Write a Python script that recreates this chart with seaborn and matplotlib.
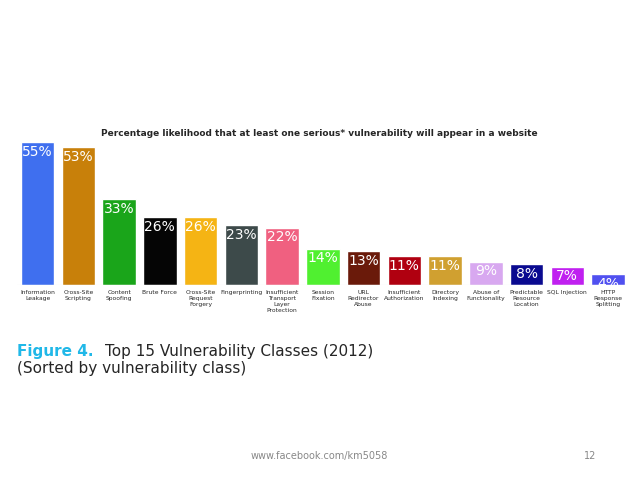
import matplotlib
matplotlib.use("Agg")
import matplotlib.pyplot as plt
import seaborn as sns
import pandas as pd

categories = ["Information\nLeakage", "Cross-Site\nScripting", "Content\nSpoofing", "Brute Force",
              "Cross-Site\nRequest\nForgery", "Fingerprinting", "Insufficient\nTransport\nLayer\nProtection",
              "Session\nFixation", "URL\nRedirector\nAbuse", "Insufficient\nAuthorization",
              "Directory\nIndexing", "Abuse of\nFunctionality", "Predictable\nResource\nLocation",
              "SQL Injection", "HTTP\nResponse\nSplitting"]
values = [55, 53, 33, 26, 26, 23, 22, 14, 13, 11, 11, 9, 8, 7, 4]
colors = ["#3f6fef", "#c8800a", "#1aa51a", "#050505", "#f5b414", "#3d4a4a", "#f06080",
          "#50f030", "#6a1a0a", "#b00010", "#d0a030", "#d8a8f0", "#0a0a90", "#c020f0", "#5050f0"]

sns.set_style("white")
plt.rcParams['font.family'] = ['DejaVu Sans']

df = pd.DataFrame({"cat": categories, "val": values})
fig = plt.figure(figsize=(6.38, 4.78), dpi=100)
ax = fig.add_axes([0.027, 0.404, 0.958, 0.299])
sns.barplot(data=df, x="cat", y="val", hue="cat", palette=colors, legend=False,
            width=0.82, ax=ax, saturation=1)
ax.set_ylim(0, 55)
ax.set_xlim(-0.5, len(values) - 0.5)
for i, v in enumerate(values):
    ax.text(i, v - 1, f"{v}%", ha="center", va="top", color="white", fontsize=10)
ax.set_xlabel("")
ax.set_ylabel("")
ax.set_yticks([])
ax.tick_params(axis="x", labelsize=4.3, length=0, pad=4)
for s in ax.spines.values():
    s.set_visible(False)
ax.axhline(0, color="#dddddd", lw=0.8)

fig.text(0.5, 0.715, "Percentage likelihood that at least one serious* vulnerability will appear in a website",
         ha="center", fontsize=6.5, fontweight="bold")
fig.text(0.027, 0.255, "Figure 4.", color="#20b8e8", fontsize=11, fontweight="bold")
fig.text(0.165, 0.255, "Top 15 Vulnerability Classes (2012)", fontsize=11)
fig.text(0.027, 0.22, "(Sorted by vulnerability class)", fontsize=11)
fig.text(0.5, 0.04, "www.facebook.com/km5058", ha="center", fontsize=7, color="#888888")
fig.text(0.925, 0.04, "12", ha="center", fontsize=7, color="#888888")

fig.savefig("out.png", dpi=100)
